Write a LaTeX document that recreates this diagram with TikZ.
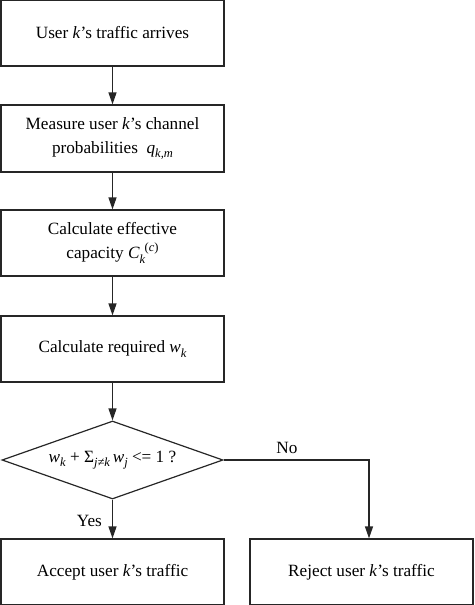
\documentclass[tikz,border=0pt]{standalone}
\usepackage{fontspec}
\setmainfont{Liberation Serif}
\usetikzlibrary{shapes.geometric,arrows.meta}
\newcommand{\vi}[1]{\textit{#1}}
\newcommand{\sbs}[1]{\raisebox{-4.5pt}{\fontsize{12.5}{12.5}\selectfont\itshape #1}}
\newcommand{\sps}[1]{\raisebox{7pt}{\fontsize{12.5}{12.5}\selectfont #1}}
\begin{document}
\begin{tikzpicture}[x=1pt,y=-1pt,
  every node/.style={font=\fontsize{17.2}{24}\selectfont},
  stepbox/.style={draw=black!85,line width=1.2pt,minimum width=223pt,minimum height=66pt,inner sep=0pt,align=center},
  decision/.style={draw=black!85,line width=1.2pt,diamond,aspect=2.83,minimum width=221pt,minimum height=78pt,inner sep=0pt,align=center},
  flow/.style={draw=black!85,line width=1.2pt,-{Triangle[length=12pt,width=8pt]}},
  lbl/.style={inner sep=0pt}]
\useasboundingbox (0,0) rectangle (474,605);
\node[stepbox] (b1) at (112.5,33) {User \vi{k}’s traffic arrives};
\node[stepbox,minimum height=67pt] (b2) at (112.5,138.5) {Measure user \vi{k}’s channel\\probabilities \ \vi{q}\sbs{k,m}};
\node[stepbox] (b3) at (112.5,243) {Calculate effective\\capacity \vi{C}\sbs{k}\kern-0.5pt\sps{(\vi{c})}};
\node[stepbox] (b4) at (112.5,349) {Calculate required \vi{w}\sbs{k}};
\node[decision] (d) at (112.5,460) {\vi{w}\sbs{k} + Σ\sbs{j≠k}\,\vi{w}\sbs{j} <= 1 ?};
\node[stepbox] (acc) at (112.5,572) {Accept user \vi{k}’s traffic};
\node[stepbox] (rej) at (361.5,572) {Reject user \vi{k}’s traffic};
\coordinate (nc) at (369,460);
\draw[flow] (b1) -- (b2);
\draw[flow] (b2) -- (b3);
\draw[flow] (b3) -- (b4);
\draw[flow] (b4) -- (d);
\draw[flow] (d) -- node[lbl,pos=0.55,left=10pt] {Yes} (acc);
\draw[flow] (d.east) -- (nc) -- (nc |- rej.north);
\node[lbl,anchor=base] (no) at (287,453) {No};
\end{tikzpicture}
\end{document}
